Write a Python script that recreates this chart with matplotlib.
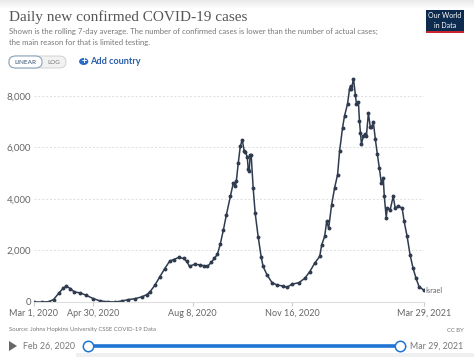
import numpy as np
import matplotlib
matplotlib.use("Agg")
import matplotlib.pyplot as plt
from matplotlib.patches import FancyBboxPatch, Rectangle, Circle, Polygon

plt.rcParams['font.family'] = ['Lato', 'DejaVu Sans']

# days since Mar 1, 2020 and rolling 7-day average of new cases (Israel)
days = [0, 8, 15, 20, 25, 30, 33, 37, 41, 47, 53, 60, 67, 75, 82, 89, 95, 102,
        109, 114, 117, 122, 127, 132, 137, 141, 146, 151, 154, 157, 162, 167,
        171, 175, 179, 182, 185, 188, 191, 194, 198, 201, 203, 204, 206, 208,
        210, 212, 213, 215, 216, 217, 218, 219, 221, 223, 226, 229, 231, 235,
        240, 245, 251, 255, 260, 267, 273, 278, 283, 288, 290, 293, 295, 297,
        300, 303, 306, 308, 311, 313, 316, 318, 319, 320, 322, 324, 325, 327,
        328, 329, 330, 332, 334, 335, 337, 339, 340, 342, 344, 346, 348, 350,
        352, 353, 355, 356, 359, 362, 364, 367, 371, 373, 376, 379, 382, 385,
        388, 393]
cases = [0, 0, 10, 95, 330, 550, 610, 520, 390, 350, 260, 130, 40, 10, 0, 40,
         90, 130, 200, 290, 390, 650, 980, 1300, 1590, 1650, 1730, 1690, 1580,
         1380, 1470, 1440, 1410, 1380, 1550, 1700, 1850, 2270, 2800, 3380, 4100,
         4620, 4490, 4680, 5400, 6040, 6300, 5860, 5820, 5650, 5150, 5100, 5720,
         5700, 4420, 3450, 2540, 1760, 1380, 1050, 750, 660, 620, 570, 690, 750,
         920, 1180, 1510, 1770, 2220, 2550, 3130, 2870, 3780, 4430, 4950, 5860,
         6770, 7230, 7690, 8270, 8400, 8270, 8670, 8020, 7690, 7750, 7040, 6580,
         6130, 6450, 6520, 6450, 7330, 6780, 6780, 6980, 6330, 5740, 5220, 4630,
         4820, 4110, 3270, 3650, 3590, 4110, 3650, 3720, 3650, 3130, 2550, 1830,
         1310, 920, 600, 450]

start = np.datetime64('2020-03-01')
tick_dates = ['2020-03-01', '2020-04-30', '2020-08-08', '2020-11-16', '2021-03-29']
tick_labels = ['Mar 1, 2020', 'Apr 30, 2020', 'Aug 8, 2020', 'Nov 16, 2020', 'Mar 29, 2021']
y_ticks = [0, 2000, 4000, 6000, 8000]

dates = start + np.array(days, dtype='timedelta64[D]')

fig = plt.figure(figsize=(4.74, 3.57), dpi=100)

# soft grey shade along the top edge
for i in range(8):
    fig.patches.append(Rectangle((0, 1 - (i + 1) / 357), 1, 1 / 357, transform=fig.transFigure,
                                 fc='#e8e8e8', ec='none', alpha=0.9 * (1 - i / 8)))
# grey band under the timeline
fig.patches.append(Rectangle((76 / 474, 0), 1, 4 / 357, transform=fig.transFigure,
                             fc='#f0f0f0', ec='none'))

ax = fig.add_axes([0.0711, 0.1541, 0.8234, 0.6347])

line_col = '#2f3b4e'
ax.plot(dates, cases, color=line_col, lw=1.1, marker='o', ms=1.8, mec=line_col, mfc=line_col)

ax.set_xlim(np.datetime64('2020-03-01'), np.datetime64('2021-03-29'))
ax.set_ylim(0, 8800)
ax.set_yticks(y_ticks)
ax.set_yticklabels([f"{v:,}" for v in y_ticks])
ax.set_xticks([np.datetime64(d) for d in tick_dates])
ax.set_xticklabels(tick_labels)
ax.grid(axis='y', color='#dddddd', ls=(0, (2, 2)), lw=0.7)
for s in ['top', 'right', 'left']:
    ax.spines[s].set_visible(False)
ax.spines['bottom'].set_color('#dddddd')
ax.tick_params(axis='y', length=0, pad=2, labelsize=7, labelcolor='#666666')
ax.tick_params(axis='x', length=3, color='#cccccc', pad=2, labelsize=6.5, labelcolor='#666666')

ax.text(np.datetime64('2021-03-30'), cases[-1], 'Israel', fontsize=5.3, color='#666666',
        va='center', ha='left')

# title block
fig.text(0.019, 0.951, 'Daily new confirmed COVID-19 cases', family='Liberation Serif',
         fontsize=11, color='#555555', va='center')
fig.text(0.019, 0.911, 'Shown is the rolling 7-day average. The number of confirmed cases is lower than the number of actual cases;',
         fontsize=5.6, color='#777777', va='center')
fig.text(0.019, 0.882, 'the main reason for that is limited testing.',
         fontsize=5.6, color='#777777', va='center')

# linear / log toggle
fig.patches.append(FancyBboxPatch((9 / 474, 1 - 68 / 357), 57 / 474, 12 / 357,
                                  boxstyle='round,pad=0,rounding_size=0.015',
                                  transform=fig.transFigure, fc='#f2f2f2', ec='#cccccc', lw=0.6))
fig.patches.append(FancyBboxPatch((9 / 474, 1 - 68 / 357), 33 / 474, 12 / 357,
                                  boxstyle='round,pad=0,rounding_size=0.015',
                                  transform=fig.transFigure, fc='white', ec='#8aa6bd', lw=0.8))
fig.text(25.5 / 474, 1 - 62 / 357, 'LINEAR', fontsize=4.6, color='#2c4a6a', ha='center', va='center')
fig.text(54 / 474, 1 - 62 / 357, 'LOG', fontsize=4.6, color='#777777', ha='center', va='center')

fig.patches.append(Circle((83.7 / 474, 1 - 61.5 / 357), 0.0098, transform=fig.transFigure,
                          fc='#2a6cc7', ec='none'))
fig.text(83.7 / 474, 1 - 61.8 / 357, '+', fontsize=6.5, color='white', ha='center', va='center',
         fontweight='bold')
fig.text(90.5 / 474, 1 - 61.5 / 357, 'Add country', fontsize=6.6, color='#2a5fa8', va='center',
         fontweight='bold')

# logo
fig.patches.append(Rectangle((426 / 474, 1 - 31 / 357), 38 / 474, 21 / 357,
                             transform=fig.transFigure, fc='#0d2b4e', ec='none'))
fig.patches.append(Rectangle((426 / 474, 1 - 32.5 / 357), 38 / 474, 1.6 / 357,
                             transform=fig.transFigure, fc='#c9252d', ec='none'))
fig.text(445 / 474, 1 - 16 / 357, 'Our World', fontsize=5.0, color='white', ha='center', va='center')
fig.text(445 / 474, 1 - 25 / 357, 'in Data', fontsize=5.0, color='white', ha='center', va='center')

# footer
fig.text(9 / 474, 1 - 330 / 357, 'Source: Johns Hopkins University CSSE COVID-19 Data',
         fontsize=4.3, color='#777777', va='center')
fig.text(464 / 474, 1 - 330 / 357, 'CC BY', fontsize=4.3, color='#777777', va='center', ha='right')

# timeline
fig.patches.append(Polygon([(9 / 474, 1 - 341 / 357), (9 / 474, 1 - 351 / 357), (17 / 474, 1 - 346 / 357)],
                           closed=True, transform=fig.transFigure, fc='#666666', ec='none'))
fig.text(23 / 474, 1 - 346 / 357, 'Feb 26, 2020', fontsize=6.4, color='#777777', va='center')
fig.text(463 / 474, 1 - 346 / 357, 'Mar 29, 2021', fontsize=6.4, color='#777777', va='center', ha='right')
fig.add_artist(plt.Line2D([88 / 474, 400 / 474], [1 - 346 / 357] * 2, transform=fig.transFigure,
                          color='#1f74d4', lw=2.6))
for xp in [88, 400]:
    fig.add_artist(plt.Line2D([xp / 474], [1 - 346 / 357], transform=fig.transFigure, marker='o',
                              ms=7.5, mfc='white', mec='#1f74d4', mew=1.1))

fig.savefig('out.png', dpi=100)
